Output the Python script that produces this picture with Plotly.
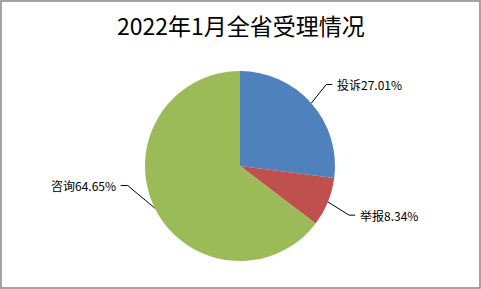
import math
import plotly.graph_objects as go

# ---- data ----
categories = ["投诉", "举报", "咨询"]
values = [27.01, 8.34, 64.65]
colors = ["#4F81BD", "#C0504D", "#9BBB59"]
title_text = "2022年1月全省受理情况"

# ---- layout constants (pixels) ----
W, H = 481, 289
CX, CY, R = 240, 166, 95
# elbow offsets (radius factor, angle shift in deg) and horizontal stub length per label
elbow = [(1.25, -2, 6), (1.26, 2, 6), (1.20, 16.5, -7)]

fig = go.Figure()
fig.add_trace(go.Pie(
    labels=categories, values=values, sort=False, direction="clockwise", rotation=0,
    marker=dict(colors=colors, line=dict(width=0)),
    textinfo="none", hoverinfo="label+percent", showlegend=False,
    domain=dict(x=[(CX - R) / W, (CX + R) / W], y=[1 - (CY + R) / H, 1 - (CY - R) / H]),
))

total = sum(values)
cum = 0.0
annotations = []
for i, (lab, v) in enumerate(zip(categories, values)):
    mid = (cum + v / 2) / total * 360.0
    cum += v
    a = math.radians(mid)
    ex, ey = CX + R * math.sin(a), CY - R * math.cos(a)
    f, dshift, stub = elbow[i]
    b = math.radians(mid + dshift)
    kx, ky = CX + R * f * math.sin(b), CY - R * f * math.cos(b)
    hx = kx + stub
    fig.add_trace(go.Scatter(x=[ex, kx, hx], y=[ey, ky, ky], mode="lines",
                             line=dict(color="#000000", width=1), hoverinfo="skip",
                             showlegend=False, xaxis="x", yaxis="y"))
    annotations.append(dict(
        x=hx + (3 if stub > 0 else -3), y=ky, xref="x", yref="y",
        text=f"{lab}{v:.2f}%", showarrow=False,
        xanchor="left" if stub > 0 else "right", yanchor="middle",
        font=dict(family="Noto Sans CJK SC", size=12, color="#000000"),
    ))

annotations.append(dict(
    x=0.5, y=1 - 25 / H, xref="paper", yref="paper", text=title_text, showarrow=False,
    xanchor="center", yanchor="middle",
    font=dict(family="Noto Sans CJK SC", size=23, color="#000000"),
))

fig.update_layout(
    width=W, height=H, margin=dict(l=0, r=0, t=0, b=0),
    paper_bgcolor="white", plot_bgcolor="rgba(0,0,0,0)",
    xaxis=dict(range=[0, W], visible=False, fixedrange=True, domain=[0, 1]),
    yaxis=dict(range=[H, 0], visible=False, fixedrange=True, domain=[0, 1]),
    annotations=annotations,
    shapes=[dict(type="rect", xref="x", yref="y", x0=1, y0=1, x1=W - 1, y1=H - 1,
                 line=dict(color="#878787", width=1.5), layer="above")],
)

fig.write_html("out.html")
